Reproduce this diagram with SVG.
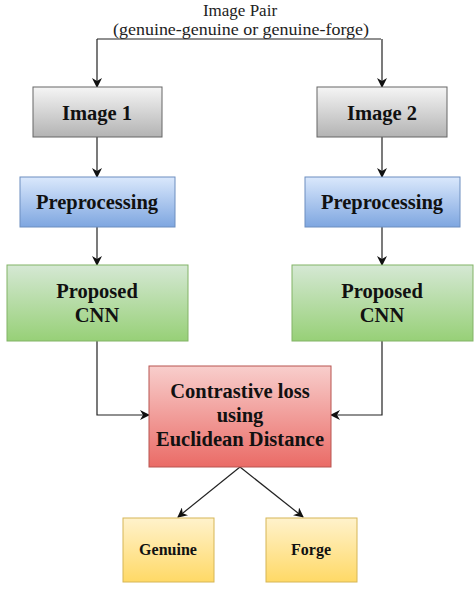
<svg xmlns="http://www.w3.org/2000/svg" width="474" height="603" viewBox="0 0 474 603">
<style>
text{font-family:"Liberation Serif","Times New Roman",serif;fill:#111;text-anchor:middle}
.b{font-weight:bold;font-size:20.5px}
.s{font-weight:bold;font-size:16px}
.t{font-size:17px;fill:#222}
.c{fill:none;stroke:#222;stroke-width:1.2}
</style>
<defs>
<linearGradient id="gGray" x1="0" y1="0" x2="0" y2="1"><stop offset="0" stop-color="#f5f5f5"/><stop offset="1" stop-color="#b3b3b3"/></linearGradient>
<linearGradient id="gBlue" x1="0" y1="0" x2="0" y2="1"><stop offset="0" stop-color="#dae8fc"/><stop offset="1" stop-color="#7ea6e0"/></linearGradient>
<linearGradient id="gGreen" x1="0" y1="0" x2="0" y2="1"><stop offset="0" stop-color="#d5e8d4"/><stop offset="1" stop-color="#97d077"/></linearGradient>
<linearGradient id="gRed" x1="0" y1="0" x2="0" y2="1"><stop offset="0" stop-color="#f8cecc"/><stop offset="1" stop-color="#ea6b66"/></linearGradient>
<linearGradient id="gYel" x1="0" y1="0" x2="0" y2="1"><stop offset="0" stop-color="#fff2cc"/><stop offset="1" stop-color="#ffd966"/></linearGradient>
<marker id="arr" viewBox="0 0 10 10" refX="9" refY="5" markerWidth="10" markerHeight="10" markerUnits="userSpaceOnUse" orient="auto"><path d="M0,0 L10,5 L0,10 L3,5 Z" fill="#111"/></marker>
</defs>
<g id="title">
<text class="t" x="240" y="16">Image Pair</text>
<text class="t" x="241" y="35" textLength="256" lengthAdjust="spacingAndGlyphs">(genuine-genuine or genuine-forge)</text>
</g>
<g id="connectors">
<path class="c" d="M97,39 H381" />
<path class="c" d="M97,39 V87" marker-end="url(#arr)"/>
<path class="c" d="M382,39 V87" marker-end="url(#arr)"/>
<path class="c" d="M97,137 V177" marker-end="url(#arr)"/>
<path class="c" d="M382,137 V177" marker-end="url(#arr)"/>
<path class="c" d="M97,227 V265" marker-end="url(#arr)"/>
<path class="c" d="M382,227 V265" marker-end="url(#arr)"/>
<path class="c" d="M97,341 V415 H149" marker-end="url(#arr)"/>
<path class="c" d="M382,341 V415 H331" marker-end="url(#arr)"/>
<path class="c" d="M240,467 L178,517" marker-end="url(#arr)"/>
<path class="c" d="M240,467 L303,517" marker-end="url(#arr)"/>
</g>
<g id="image1">
<rect x="33" y="87" width="129" height="50" fill="url(#gGray)" stroke="#666"/>
<text class="b" x="97" y="120">Image 1</text>
</g>
<g id="image2">
<rect x="317" y="87" width="130" height="50" fill="url(#gGray)" stroke="#666"/>
<text class="b" x="382" y="120">Image 2</text>
</g>
<g id="pre1">
<rect x="20" y="177" width="155" height="50" fill="url(#gBlue)" stroke="#6c8ebf"/>
<text class="b" x="97" y="209">Preprocessing</text>
</g>
<g id="pre2">
<rect x="305" y="177" width="155" height="50" fill="url(#gBlue)" stroke="#6c8ebf"/>
<text class="b" x="382" y="209">Preprocessing</text>
</g>
<g id="cnn1">
<rect x="7" y="265" width="181" height="76" fill="url(#gGreen)" stroke="#82b366"/>
<text class="b" x="97" y="298">Proposed</text>
<text class="b" x="97" y="322">CNN</text>
</g>
<g id="cnn2">
<rect x="292" y="265" width="181" height="76" fill="url(#gGreen)" stroke="#82b366"/>
<text class="b" x="382" y="298">Proposed</text>
<text class="b" x="382" y="322">CNN</text>
</g>
<g id="loss">
<rect x="149" y="366" width="182" height="101" fill="url(#gRed)" stroke="#b85450"/>
<text class="b" x="240" y="398">Contrastive loss</text>
<text class="b" x="240" y="422">using</text>
<text class="b" x="240" y="446">Euclidean Distance</text>
</g>
<g id="genuine">
<rect x="123" y="518" width="91" height="64" fill="url(#gYel)" stroke="#d6b656"/>
<text class="s" x="168" y="555">Genuine</text>
</g>
<g id="forge">
<rect x="266" y="518" width="91" height="64" fill="url(#gYel)" stroke="#d6b656"/>
<text class="s" x="311" y="555">Forge</text>
</g>
</svg>
